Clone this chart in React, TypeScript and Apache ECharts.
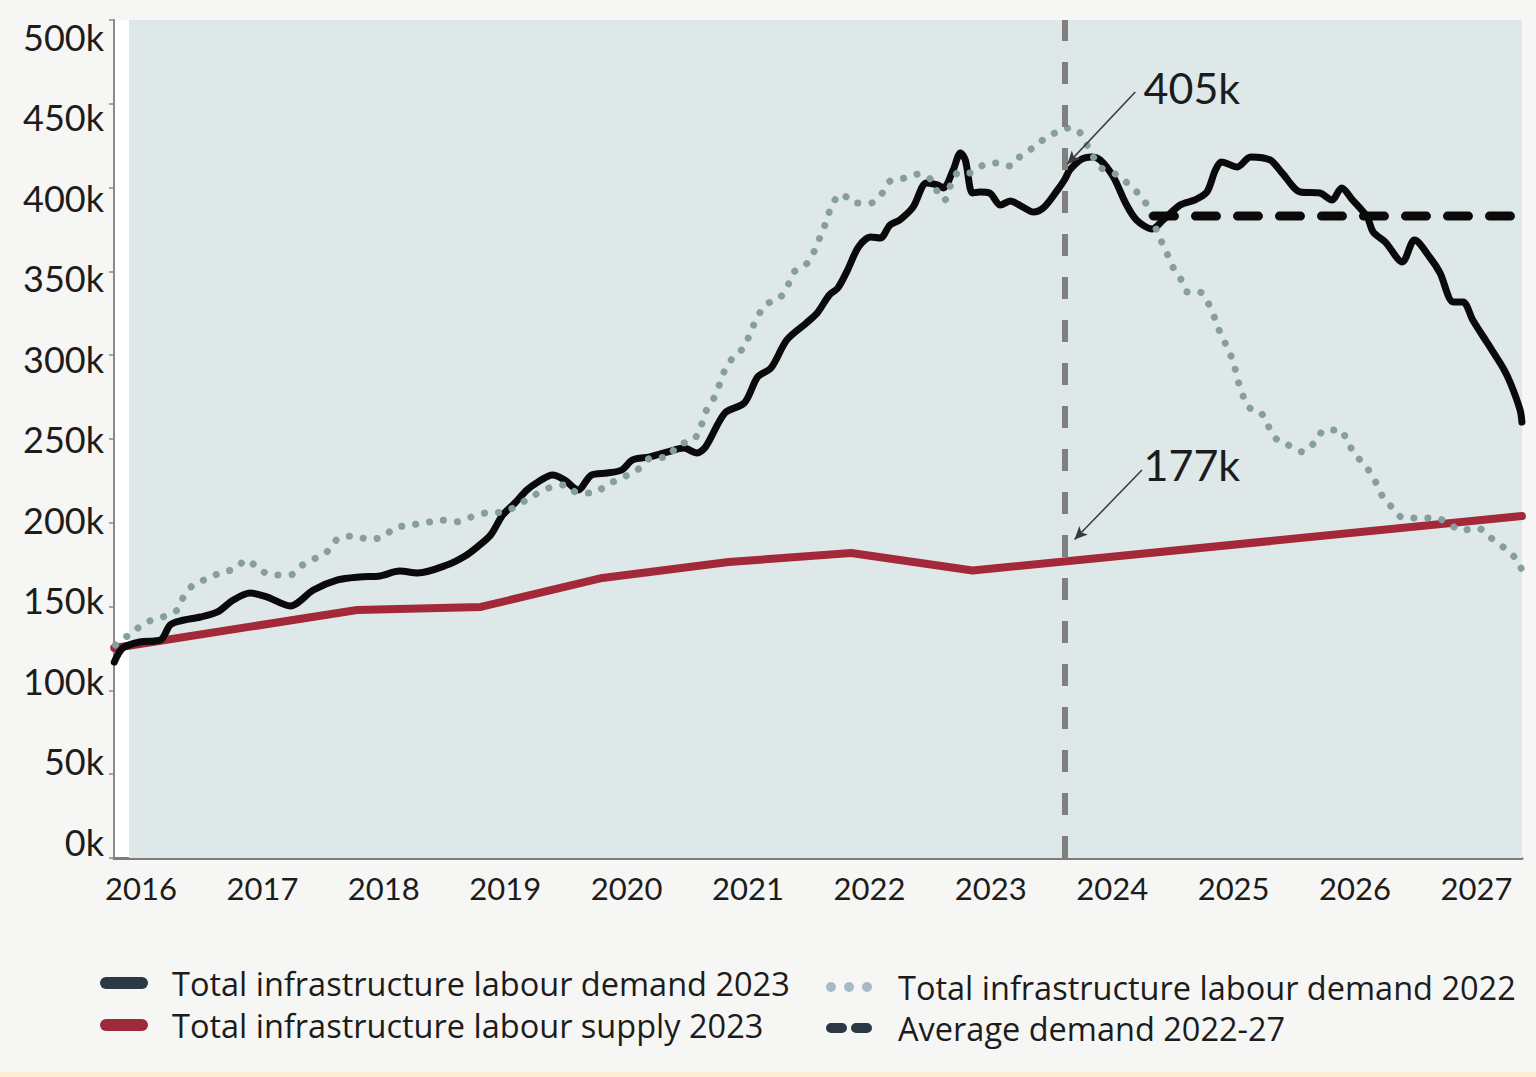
import { useEffect, useRef } from "react";
import * as echarts from "echarts";

// ---- data (years as decimal positions, values in thousands of workers) ----
const yearTicks = [2016, 2017, 2018, 2019, 2020, 2021, 2022, 2023, 2024, 2025, 2026, 2027];
const valueTicks = [0, 50, 100, 150, 200, 250, 300, 350, 400, 450, 500];

const demand2023Years = [
  2015.78, 2015.85, 2015.99, 2016.16, 2016.24, 2016.32, 2016.49, 2016.63, 2016.76, 2016.9,
  2017.04, 2017.23, 2017.42, 2017.62, 2017.8, 2017.97, 2018.13, 2018.28, 2018.52, 2018.67,
  2018.77, 2018.88, 2018.98, 2019.08, 2019.18, 2019.27, 2019.39, 2019.49, 2019.6, 2019.71,
  2019.84, 2019.96, 2020.05, 2020.19, 2020.34, 2020.47, 2020.58, 2020.65, 2020.81, 2020.97,
  2021.08, 2021.19, 2021.32, 2021.48, 2021.57, 2021.67, 2021.74, 2021.82, 2021.91, 2022.01,
  2022.09, 2022.17, 2022.25, 2022.36, 2022.47, 2022.56, 2022.61, 2022.69, 2022.75, 2022.79,
  2022.85, 2022.91, 2022.99, 2023.08, 2023.16, 2023.25, 2023.35, 2023.44, 2023.55, 2023.61,
  2023.65, 2023.75, 2023.83, 2023.9, 2024.01, 2024.11, 2024.2, 2024.33, 2024.42, 2024.56,
  2024.68, 2024.78, 2024.85, 2024.9, 2025.03, 2025.14, 2025.3, 2025.4, 2025.55, 2025.71,
  2025.81, 2025.89, 2025.98, 2026.1, 2026.15, 2026.25, 2026.39, 2026.49, 2026.62, 2026.7,
  2026.81, 2026.89, 2026.97, 2027.09, 2027.22, 2027.28, 2027.36, 2027.375,
];
const demand2023Values = [
  116.9, 125.3, 128.9, 130.1, 139.0, 141.4, 143.8, 146.8, 153.9, 158.1,
  155.7, 150.4, 159.9, 165.9, 167.7, 168.3, 171.2, 170.1, 174.8, 180.2,
  185.6, 192.7, 204.7, 211.8, 219.6, 224.4, 228.5, 225.5, 219.6, 228.5,
  229.7, 231.5, 237.5, 239.3, 242.3, 244.6, 241.7, 245.2, 265.5, 271.5,
  287.0, 292.4, 309.1, 319.2, 325.2, 335.9, 340.1, 350.8, 364.6, 370.5,
  369.9, 377.7, 380.7, 388.4, 402.8, 401.6, 399.8, 410.5, 420.7, 416.5,
  396.8, 397.4, 396.8, 389.6, 392.0, 389.0, 385.4, 388.4, 398.6, 405.0,
  410.5, 417.1, 418.3, 416.5, 406.3, 390.8, 380.7, 375.3, 380.7, 389.6,
  392.6, 397.4, 410.5, 415.3, 412.3, 418.3, 416.5, 408.7, 397.4, 396.8,
  392.6, 399.8, 392.6, 382.5, 373.5, 367.5, 355.6, 368.7, 358.0, 349.1,
  331.7, 331.7, 321.0, 307.3, 292.4, 283.4, 267.3, 260.1,
];

const demand2022Years = [
  2015.79, 2015.93, 2016.05, 2016.18, 2016.3, 2016.35, 2016.43, 2016.54, 2016.67, 2016.77,
  2016.87, 2016.98, 2017.09, 2017.23, 2017.33, 2017.44, 2017.54, 2017.62, 2017.75, 2017.87,
  2017.99, 2018.09, 2018.22, 2018.34, 2018.46, 2018.59, 2018.72, 2018.84, 2018.97, 2019.08,
  2019.2, 2019.36, 2019.49, 2019.6, 2019.72, 2019.84, 2019.95, 2020.07, 2020.2, 2020.34,
  2020.42, 2020.55, 2020.61, 2020.65, 2020.72, 2020.77, 2020.81, 2020.88, 2020.97, 2021.02,
  2021.08, 2021.14, 2021.26, 2021.33, 2021.38, 2021.49, 2021.55, 2021.6, 2021.65, 2021.69,
  2021.77, 2021.88, 2022.01, 2022.1, 2022.17, 2022.29, 2022.41, 2022.52, 2022.58, 2022.62,
  2022.67, 2022.74, 2022.83, 2022.94, 2023.05, 2023.16, 2023.26, 2023.36, 2023.46, 2023.55,
  2023.65, 2023.73, 2023.81, 2023.9, 2024.04, 2024.21, 2024.3, 2024.38, 2024.44, 2024.49,
  2024.56, 2024.62, 2024.72, 2024.79, 2024.85, 2024.89, 2024.95, 2025.0, 2025.03, 2025.07,
  2025.12, 2025.22, 2025.28, 2025.36, 2025.45, 2025.57, 2025.67, 2025.75, 2025.88, 2025.94,
  2026.02, 2026.1, 2026.17, 2026.23, 2026.31, 2026.4, 2026.54, 2026.66, 2026.89, 2027.01,
  2027.11, 2027.22, 2027.32, 2027.375,
];
const demand2022Values = [
  127.1, 134.8, 140.8, 143.8, 148.0, 155.7, 162.9, 166.5, 170.6, 172.4,
  177.8, 171.8, 168.9, 168.9, 174.8, 179.0, 183.2, 190.3, 192.1, 190.3,
  191.5, 196.9, 198.7, 199.9, 201.7, 200.5, 203.5, 205.9, 206.4, 209.4,
  214.8, 220.8, 222.6, 217.8, 217.8, 222.6, 226.7, 230.3, 238.7, 239.3,
  246.4, 249.4, 257.2, 266.1, 274.5, 283.4, 291.2, 298.9, 304.9, 313.9,
  322.8, 330.0, 334.1, 341.9, 349.7, 355.0, 362.8, 371.7, 380.7, 389.6,
  396.2, 390.8, 390.8, 396.2, 403.9, 405.7, 408.1, 403.9, 393.8, 392.6,
  401.6, 409.3, 408.7, 413.5, 414.7, 412.9, 420.1, 424.2, 430.2, 433.2,
  435.6, 433.2, 423.0, 412.3, 407.5, 396.8, 387.8, 371.7, 362.8, 353.8,
  346.1, 337.7, 337.7, 331.2, 321.0, 313.3, 304.3, 295.4, 286.4, 277.5,
  269.1, 266.1, 258.4, 249.4, 246.4, 242.3, 248.2, 255.4, 255.4, 247.6,
  239.3, 232.7, 224.3, 215.4, 208.8, 202.9, 202.9, 202.9, 195.7, 196.9,
  191.5, 185.6, 179.0, 171.8,
];

const supply2023Years = [2015.78, 2017.78, 2018.8, 2019.8, 2020.84, 2021.85, 2022.85, 2027.375];
const supply2023Values = [125.3, 148.0, 149.8, 167.1, 176.6, 182.0, 171.5, 204.0];

const averageYears = [2024.34, 2027.375];
const averageValues = [383, 383];

// Current-year marker and its two call-outs
const markerYear = 2023.61;
const peakCallout = 405;
const supplyCallout = 177;

const SERIES_DEMAND_2023 = "Total infrastructure labour demand 2023";
const SERIES_SUPPLY_2023 = "Total infrastructure labour supply 2023";
const SERIES_DEMAND_2022 = "Total infrastructure labour demand 2022";
const SERIES_AVERAGE = "Average demand 2022-27";

// ---- styling ----
const FONT = "Lato, 'Open Sans', 'DejaVu Sans', sans-serif";
const LEGEND_FONT = "'Open Sans', Lato, 'DejaVu Sans', sans-serif";
const TEXT = "#1c1c1c";
const X_MIN = 2015.7776;
const X_MAX = 2027.3756;
const PANEL_START = 2015.901;

const PILL = "path://M6,0H42A6,6,0,0,1,42,12H6A6,6,0,0,1,6,0Z";
const DOTS =
  "path://M5,0A5,5,0,1,1,5,10A5,5,0,1,1,5,0Z M23,0A5,5,0,1,1,23,10A5,5,0,1,1,23,0Z M41,0A5,5,0,1,1,41,10A5,5,0,1,1,41,0Z";
const DASHES = "path://M5,0H16A5,5,0,0,1,16,10H5A5,5,0,0,1,5,0Z M30,0H41A5,5,0,0,1,41,10H30A5,5,0,0,1,30,0Z";

const pairs = (xs: number[], ys: number[]) => xs.map((x, i) => [x, ys[i]]);

// Value labels fan out slightly from their ticks: low labels ride above, high labels below.
const tickLabelRich: Record<string, any> = {};
valueTicks.forEach((v, i) => {
  const shift = ((v - 250) / 250) * 16.5;
  tickLabelRich["t" + i] = {
    fontSize: 36,
    fontFamily: FONT,
    color: TEXT,
    padding: shift > 0 ? [2 * shift, 0, 0, 0] : [0, 0, -2 * shift, 0],
  };
});

export default function App() {
  const ref = useRef<HTMLDivElement>(null);

  useEffect(() => {
    document.body.style.margin = "0";
    const chart = echarts.init(ref.current!, undefined, { renderer: "svg" });

    const calloutLabel = {
      show: true,
      position: "right",
      distance: 0,
      formatter: (p: any) => `${p.value}k`,
      fontSize: 43,
      fontFamily: FONT,
      color: TEXT,
    };
    const arrowStyle = { color: "#3a3a3a", width: 1.5, type: "solid" };
    const legendText = {
      fontSize: 32.5,
      fontFamily: LEGEND_FONT,
      color: TEXT,
      lineHeight: 36,
    };

    chart.setOption({
      animation: false,
      backgroundColor: "#f6f6f4",
      grid: {
        left: 114,
        right: 14,
        top: 20,
        bottom: 219,
        show: true,
        backgroundColor: "#ffffff",
        borderWidth: 0,
      },
      xAxis: {
        type: "value",
        min: X_MIN,
        max: X_MAX,
        axisLine: { show: true, lineStyle: { color: "#7d7d7d", width: 3 } },
        axisTick: { show: false },
        splitLine: { show: false },
        axisLabel: {
          customValues: yearTicks,
          formatter: (v: number) => String(Math.round(v)),
          fontSize: 31,
          fontFamily: FONT,
          color: TEXT,
          margin: 14,
        },
      },
      yAxis: {
        type: "value",
        min: 0,
        max: 500,
        interval: 50,
        axisLine: { show: true, lineStyle: { color: "#8a8a8a", width: 2 } },
        axisTick: { show: true, length: 5, lineStyle: { color: "#8a8a8a", width: 1.5 } },
        splitLine: { show: false },
        axisLabel: {
          margin: 10,
          formatter: (v: number) => `{t${Math.round(v / 50)}|${v}k}`,
          rich: tickLabelRich,
        },
      },
      legend: [
        {
          left: 100,
          top: 965,
          padding: 0,
          orient: "vertical",
          selectedMode: false,
          itemWidth: 48,
          itemHeight: 12,
          itemGap: 6,
          textStyle: { ...legendText, padding: [0, 0, 0, 19] },
          data: [
            { name: SERIES_DEMAND_2023, icon: PILL, itemStyle: { color: "#2c3844", borderWidth: 0 } },
            { name: SERIES_SUPPLY_2023, icon: PILL, itemStyle: { color: "#9c2a3b", borderWidth: 0 } },
          ],
        },
        {
          left: 826,
          top: 969,
          padding: 0,
          orient: "vertical",
          selectedMode: false,
          itemWidth: 46,
          itemHeight: 10,
          itemGap: 5,
          textStyle: { ...legendText, padding: [0, 0, 0, 21] },
          data: [
            { name: SERIES_DEMAND_2022, icon: DOTS, itemStyle: { color: "#a7bbc4", borderWidth: 0 } },
            { name: SERIES_AVERAGE, icon: DASHES, itemStyle: { color: "#2c3844", borderWidth: 0 } },
          ],
        },
      ],
      graphic: [
        {
          type: "rect",
          left: 0,
          bottom: 0,
          shape: { width: 1536, height: 5 },
          style: { fill: "#fbecd3" },
        },
      ],
      series: [
        {
          // panel shading, current-year marker and call-outs
          type: "line",
          data: [],
          z: 1,
          silent: true,
          markArea: {
            silent: true,
            itemStyle: { color: "#dee8e8" },
            data: [[{ coord: [PANEL_START, 0] }, { coord: [X_MAX, 500] }]],
          },
          markLine: {
            silent: true,
            symbol: ["none", "none"],
            label: { show: false },
            data: [
              { xAxis: markerYear, lineStyle: { color: "#808080", width: 6, type: [22, 21] } },
              [
                { coord: [2024.19, 457.1], symbol: "none", lineStyle: arrowStyle },
                { coord: [markerYear + 0.02, peakCallout + 9], symbol: "arrow", symbolSize: [9, 13], lineStyle: arrowStyle },
              ],
              [
                { coord: [2024.245, 231.5], symbol: "none", lineStyle: arrowStyle },
                { coord: [markerYear + 0.08, supplyCallout + 13], symbol: "arrow", symbolSize: [9, 13], lineStyle: arrowStyle },
              ],
            ],
          },
          markPoint: {
            silent: true,
            symbol: "circle",
            symbolSize: 1,
            itemStyle: { color: "rgba(0,0,0,0)" },
            label: calloutLabel,
            data: [
              { coord: [2024.254, 460], value: peakCallout },
              { coord: [2024.254, 234.5], value: supplyCallout },
            ],
          },
        },
        {
          name: SERIES_SUPPLY_2023,
          type: "line",
          z: 2,
          symbol: "none",
          data: pairs(supply2023Years, supply2023Values),
          itemStyle: { color: "#a3283a" },
          lineStyle: { color: "#a3283a", width: 8, cap: "round", join: "round" },
        },
        {
          name: SERIES_DEMAND_2023,
          type: "line",
          z: 3,
          symbol: "none",
          smooth: 0.3,
          data: pairs(demand2023Years, demand2023Values),
          itemStyle: { color: "#0a0a0a" },
          lineStyle: { color: "#0a0a0a", width: 7, cap: "round", join: "round" },
        },
        {
          name: SERIES_DEMAND_2022,
          type: "line",
          z: 4,
          symbol: "none",
          smooth: 0.3,
          data: pairs(demand2022Years, demand2022Values),
          itemStyle: { color: "#879e9e" },
          lineStyle: { color: "#879e9e", width: 7, type: [0.1, 14], cap: "round" },
        },
        {
          name: SERIES_AVERAGE,
          type: "line",
          z: 5,
          symbol: "none",
          data: pairs(averageYears, averageValues),
          itemStyle: { color: "#0a0a0a" },
          lineStyle: { color: "#0a0a0a", width: 9, type: [21, 21], cap: "round" },
        },
      ],
    });

    return () => chart.dispose();
  }, []);

  return (
    <div
      ref={ref}
      style={{ position: "fixed", left: 0, top: 0, width: 1536, height: 1077, background: "#f6f6f4" }}
    />
  );
}
